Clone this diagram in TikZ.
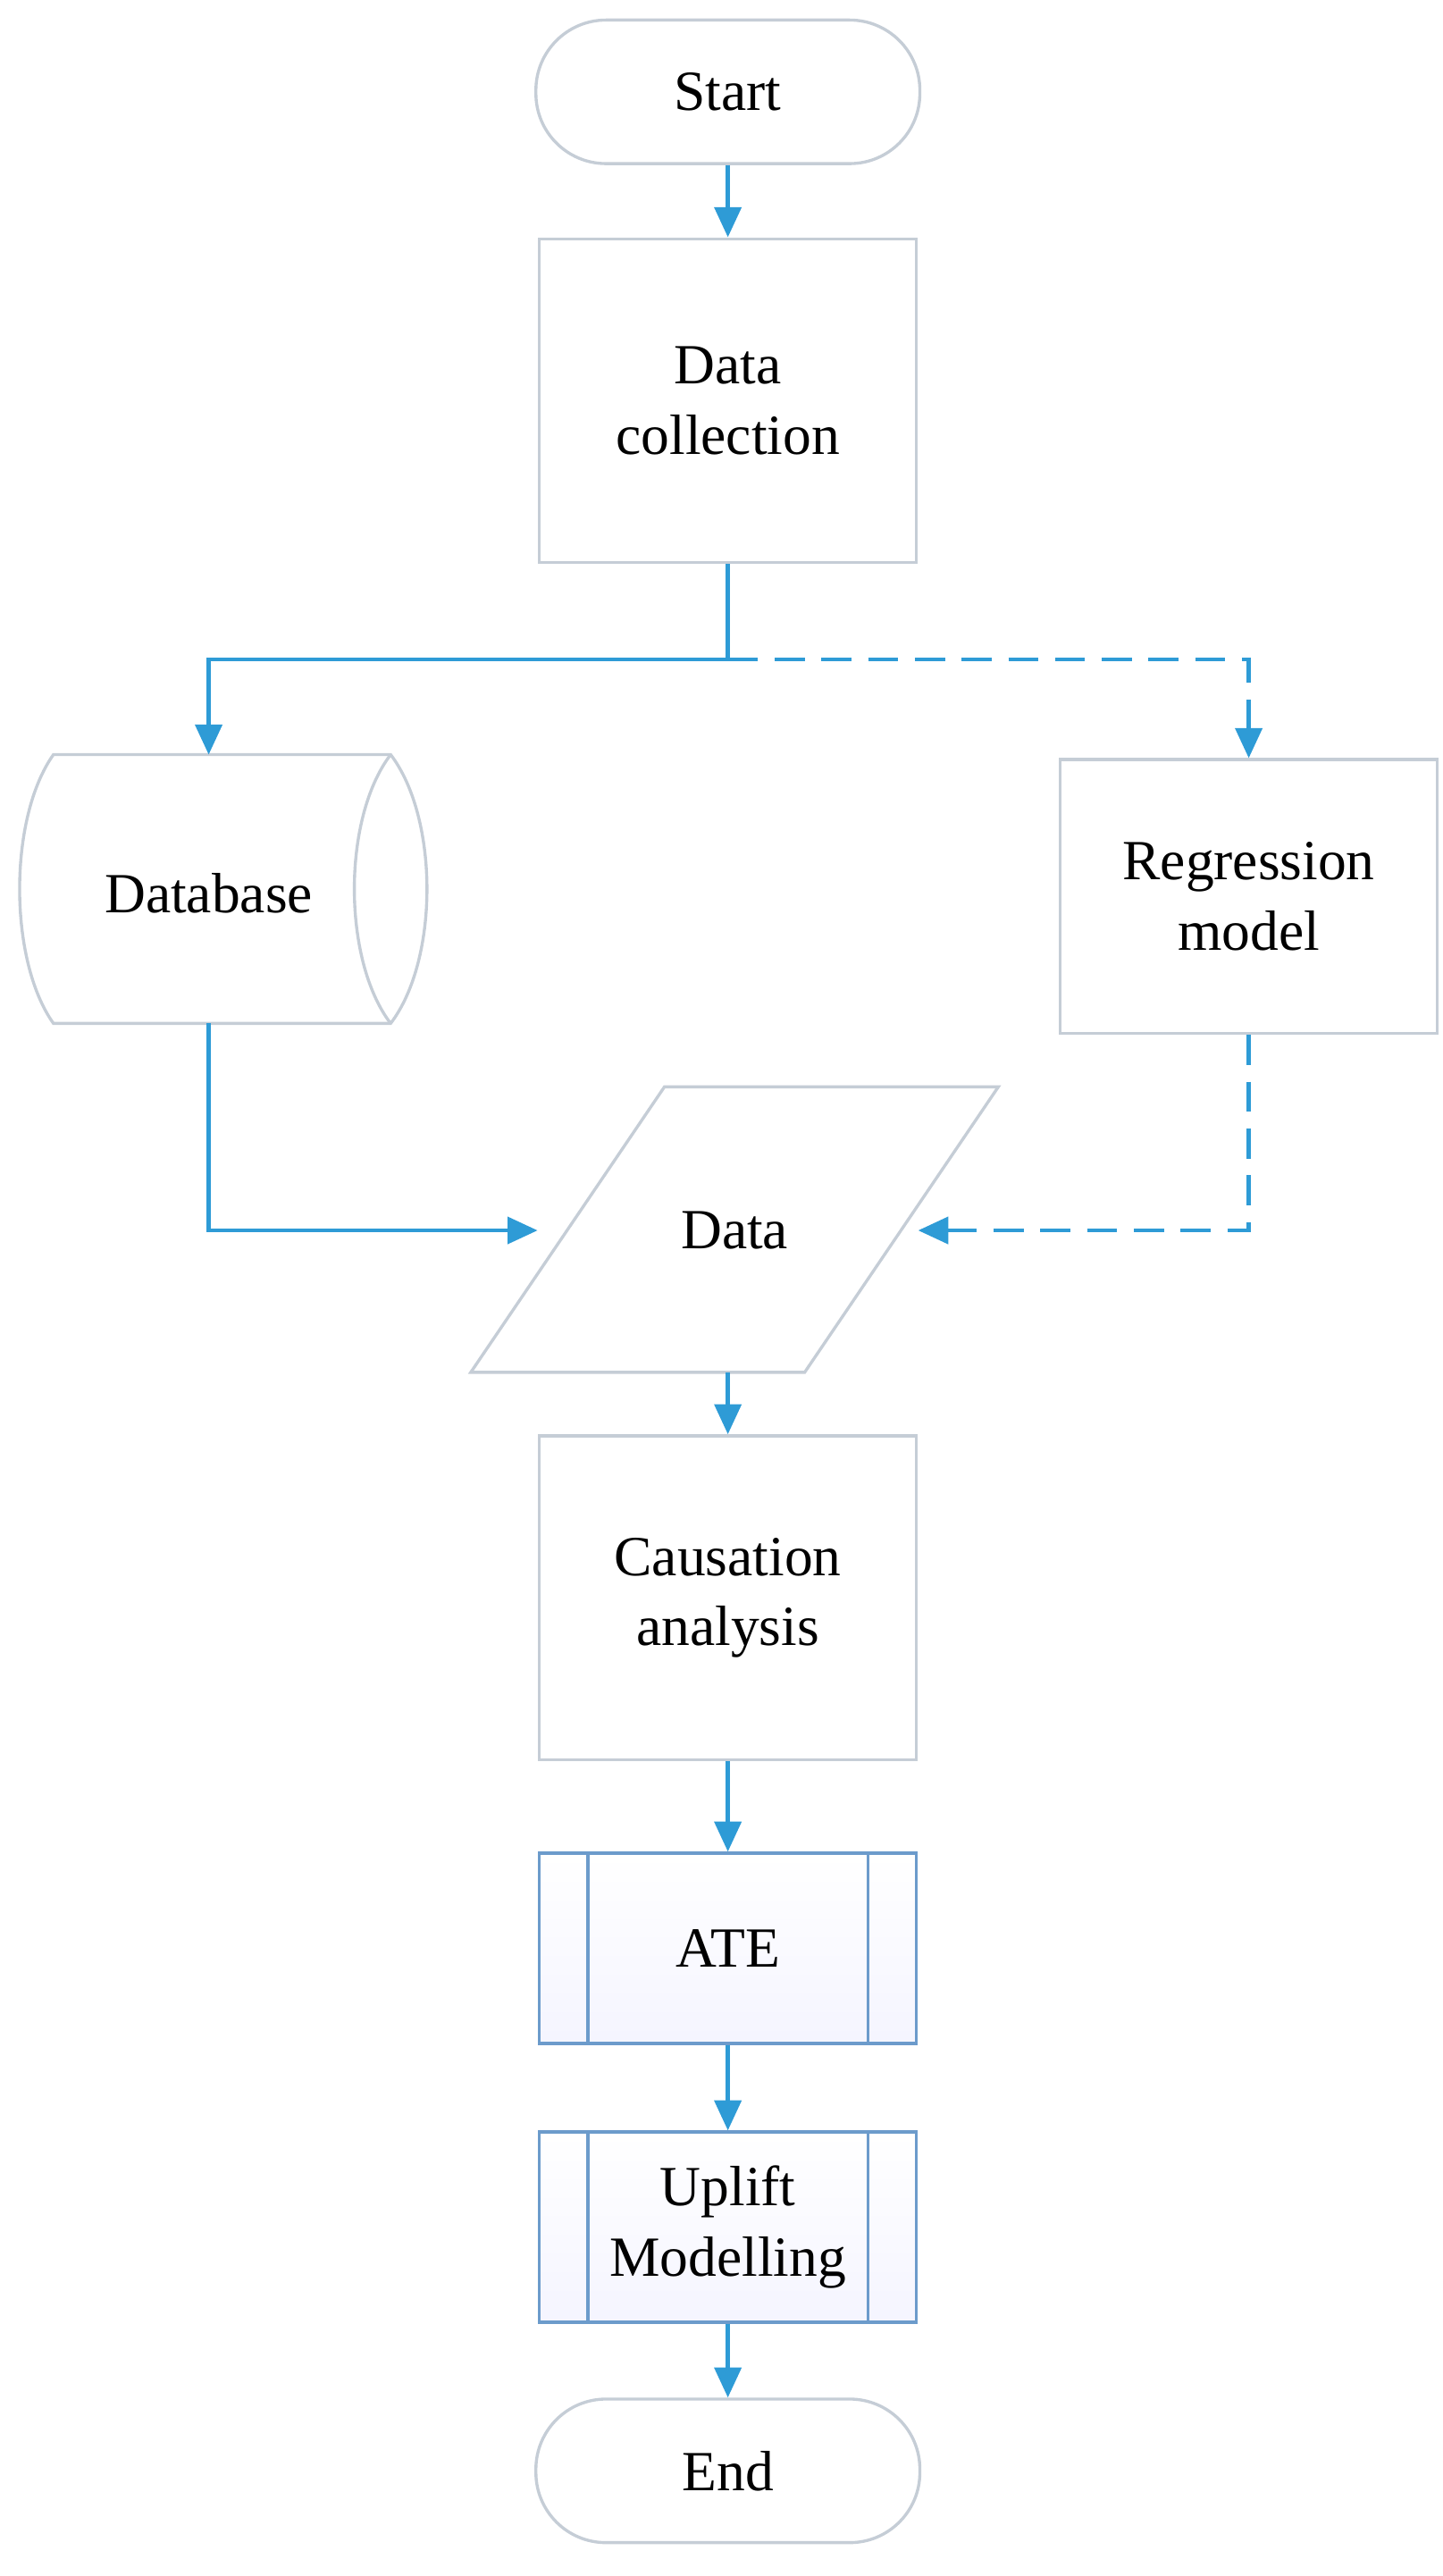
\documentclass[tikz,border=0pt]{standalone}
\usepackage{fontspec}
\setmainfont{Liberation Serif}
\usetikzlibrary{arrows.meta,shapes.geometric}
\definecolor{arr}{HTML}{2E9BD6}
\definecolor{bord}{HTML}{C5CDD6}
\definecolor{pbord}{HTML}{6C9BCB}
\begin{document}
\begin{tikzpicture}[x=0.5pt,y=-0.5pt,
  txt/.style={font=\fontsize{17}{21}\selectfont,align=center},
  box/.style={txt,draw=bord,line width=0.9pt,fill=white,minimum width=113pt,minimum height=97pt},
  term/.style={txt,draw=bord,line width=0.9pt,fill=white,rounded corners=21pt,minimum width=115pt,minimum height=43pt},
  pre/.style={box,draw=pbord,top color=white,bottom color=blue!4,minimum height=57pt},
  con/.style={draw=arr,line width=1.2pt,-{Triangle[length=9pt,width=8pt]}},
  dcon/.style={con,dash pattern=on 9pt off 5pt}]
\useasboundingbox (0,0) rectangle (864,1543);
\node[term] (start) at (436,55) {Start};
\node[box] (dc) at (436,240) {Data\\collection};
\node[box,minimum height=82pt] (reg) at (748,537) {Regression\\model};
% database
\draw[bord,line width=0.9pt,fill=white] (32,452) -- (234,452)
  .. controls (263,490) and (263,575) .. (234,613) -- (32,613)
  .. controls (5,575) and (5,490) .. (32,452) -- cycle;
\draw[bord,line width=0.9pt] (234,452) .. controls (205,490) and (205,575) .. (234,613);
\node[txt] (db) at (125,535) {Database};
\coordinate (dbtop) at (125,452);
\coordinate (dbbot) at (125,613);
% data parallelogram
\draw[bord,line width=0.9pt,fill=white] (398,651) -- (598,651) -- (482,822) -- (282,822) -- cycle;
\node[txt] (data) at (440,737) {Data};
\coordinate (dl) at (322,737);
\coordinate (dr) at (550,737);
\node[box] (ca) at (436,957) {Causation\\analysis};
\node[pre] (ate) at (436,1167) {ATE};
\node[pre] (up) at (436,1334) {Uplift\\Modelling};
\foreach \n in {ate,up}{
  \draw[pbord,line width=0.9pt] ([xshift=15pt]\n.north west) -- ([xshift=15pt]\n.south west);
  \draw[pbord,line width=0.9pt] ([xshift=-15pt]\n.north east) -- ([xshift=-15pt]\n.south east);}
\node[term] (end) at (436,1480) {End};
\coordinate (split) at (436,395);
\draw[con] (start) -- (dc);
\draw[con] (dc.south) -- (split) -| (dbtop);
\draw[dcon] (split) -| (reg.north);
\draw[con] (dbbot) |- (dl);
\draw[dcon] (reg.south) |- (dr);
\draw[con] (436,822) -- (ca.north);
\draw[con] (ca) -- (ate);
\draw[con] (ate) -- (up);
\draw[con] (up) -- (end);
\end{tikzpicture}
\end{document}
